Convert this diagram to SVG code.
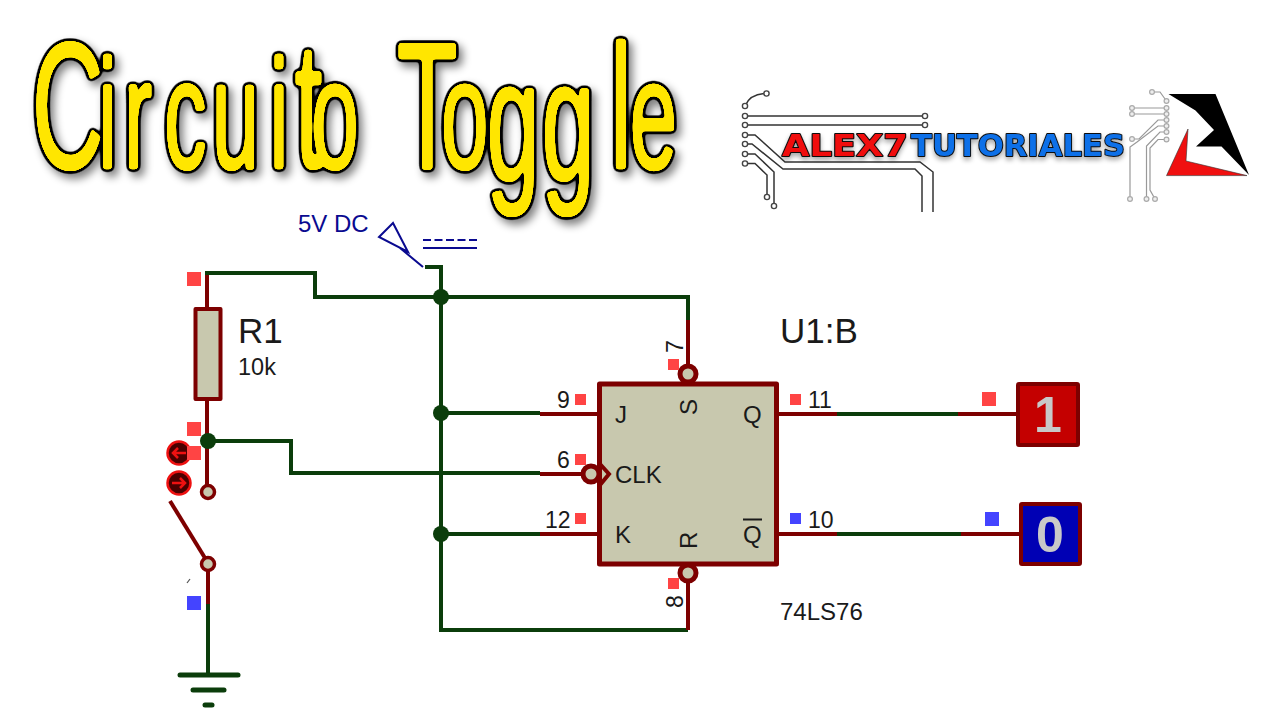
<svg xmlns="http://www.w3.org/2000/svg" width="1280" height="720" viewBox="0 0 1280 720">
<defs>
<filter id="titleFx" x="-5%" y="-15%" width="110%" height="130%" filterUnits="objectBoundingBox">
<feGaussianBlur in="SourceAlpha" stdDeviation="1.6" result="a1"/>
<feComponentTransfer in="a1" result="round"><feFuncA type="linear" slope="8" intercept="-3.4"/></feComponentTransfer>
<feFlood flood-color="#ffe600"/><feComposite in2="round" operator="in" result="y"/>
<feGaussianBlur in="SourceAlpha" stdDeviation="2.8" result="a2"/>
<feComponentTransfer in="a2" result="outline"><feFuncA type="linear" slope="9" intercept="-0.7"/></feComponentTransfer>
<feFlood flood-color="#000"/><feComposite in2="outline" operator="in" result="k"/>
<feGaussianBlur in="outline" stdDeviation="4" result="b"/>
<feOffset in="b" dx="4" dy="5" result="o"/>
<feComponentTransfer in="o" result="s"><feFuncA type="linear" slope=".5"/></feComponentTransfer>
<feMerge><feMergeNode in="s"/><feMergeNode in="k"/><feMergeNode in="y"/></feMerge>
</filter>
<filter id="soft" x="-5%" y="-20%" width="110%" height="150%">
<feGaussianBlur in="SourceAlpha" stdDeviation="2.5"/><feOffset dy="3" result="o"/>
<feComponentTransfer in="o" result="s"><feFuncA type="linear" slope=".35"/></feComponentTransfer>
<feMerge><feMergeNode in="s"/><feMergeNode in="SourceGraphic"/></feMerge>
</filter>
<circle id="padK" r="2.6" fill="#fff" stroke="#444" stroke-width="1.4"/>
<circle id="padG" r="2.4" fill="#eee" stroke="#aaa" stroke-width="1.2"/>
</defs>
<style>
.t{font-family:"Liberation Sans",Arial,sans-serif;fill:#1a1a1a}
.wg{fill:none;stroke:#0b3d0b;stroke-width:4}
.wr{fill:none;stroke:#7d0000;stroke-width:4}
.jn{fill:#0b3d0b}
.body{fill:#c8c8ae;stroke:#7d0000;stroke-linejoin:round}
.pr{fill:#ff4444}
.pb{fill:#4444ff}
.tk{fill:none;stroke:#333;stroke-width:1.5}
.tg{fill:none;stroke:#999;stroke-width:1.2}
.bl{fill:none;stroke:#0a0a90;stroke-width:2}
</style>
<rect width="1280" height="720" fill="#fff"/>

<g id="title" filter="url(#titleFx)">
<text transform="translate(0,168) scale(.55,1)" font-family="'Liberation Sans',Arial,sans-serif" font-size="155" fill="#ffe600" stroke="#ffe600" stroke-width="2.500" stroke-linejoin="round"><tspan x="58" font-size="180">C</tspan><tspan x="178 225 298 385 490">ircui</tspan><tspan x="536" font-size="180">t</tspan><tspan x="566 700">o </tspan><tspan x="722" font-size="180">T</tspan><tspan x="802">o</tspan><tspan x="885 985" dy="12" font-size="172">gg</tspan><tspan x="1109" dy="-12" font-size="176">l</tspan><tspan x="1145">e</tspan></text>
</g>

<g id="logo">
<g id="logo-traces-left" class="tk">
<path d="M745 106Q750 94 766 93.500"/><path d="M745 116H925M745 125H925"/>
<path d="M745 135H755L785 162H920L933 172V212"/>
<path d="M745 144H752L783 169H915L922 176V212"/>
<path d="M745 154H755L774 172V206"/>
<path d="M745 163.500H755L767 175V197"/>
</g>
<use href="#padK" x="766.500" y="93.500"/><use href="#padK" x="745" y="106"/><use href="#padK" x="745" y="116"/><use href="#padK" x="745" y="125"/><use href="#padK" x="745" y="135"/><use href="#padK" x="745" y="144"/><use href="#padK" x="745" y="154"/><use href="#padK" x="745" y="163.500"/><use href="#padK" x="925" y="116"/><use href="#padK" x="925" y="125"/><use href="#padK" x="767" y="197"/><use href="#padK" x="774" y="206"/>
<g id="logo-traces-right" class="tg">
<path d="M1152 92H1160L1166.500 101"/><path d="M1132 108H1166M1132 114H1166"/>
<path d="M1132 139H1139L1158 120H1166"/>
<path d="M1130 199V147L1137 142L1158 126H1166"/>
<path d="M1146.500 199V146L1160 132H1166"/>
<path d="M1155 199L1150 190V148L1158 139.500H1166"/>
</g>
<use href="#padG" x="1152" y="92"/><use href="#padG" x="1166.500" y="101"/><use href="#padG" x="1166.500" y="108"/><use href="#padG" x="1166.500" y="114"/><use href="#padG" x="1166.500" y="120"/><use href="#padG" x="1166.500" y="126"/><use href="#padG" x="1166.500" y="132"/><use href="#padG" x="1166.500" y="139.500"/><use href="#padG" x="1132" y="108"/><use href="#padG" x="1132" y="114"/><use href="#padG" x="1132" y="139"/><use href="#padG" x="1130" y="199"/><use href="#padG" x="1146.500" y="199"/><use href="#padG" x="1155" y="199"/>
<polygon points="1168.500,94 1215.500,94 1249,175 1221.500,146.500 1196,146.500 1214,130 1195.500,110.400" fill="#000"/>
<polygon points="1188,129 1186,161 1247,175.600 1166.500,175.600" fill="#f01010" stroke="#333" stroke-width=".6"/>
<g filter="url(#soft)" font-family="'DejaVu Sans',sans-serif" font-weight="bold" stroke="#101010" stroke-width="2" paint-order="stroke" stroke-linejoin="round">
<text x="782" y="156" font-size="31" fill="#f01010" textLength="126" lengthAdjust="spacingAndGlyphs">ALEX7</text>
<text x="911" y="156" font-size="31" fill="#0a6fe8" textLength="214" lengthAdjust="spacingAndGlyphs">TUTORIALES</text>
</g>
</g>

<g id="connectors">
<path class="wg" d="M207 275V273H315V297H688V320"/>
<path class="wg" d="M425 267H441V630H688"/>
<path class="wg" d="M208 441H291V473H540"/>
<path class="wg" d="M441 413H540M441 534H540"/>
<path class="wg" d="M837 414H958M837 534H961"/>
<path class="wg" d="M208 604V675"/>
<path class="wr" d="M207 275V308M207 400V486"/>
<path class="wr" d="M208 570V604"/>
<path class="wr" d="M688 320V366M688 581V630"/>
<path class="wr" d="M540 414H599M540 474H583M540 534H599"/>
<path class="wr" d="M777 414H837M777 534H837M958 414H1018M961 534H1020"/>
<circle class="jn" cx="441" cy="297" r="8"/><circle class="jn" cx="441" cy="413" r="8"/><circle class="jn" cx="441" cy="534" r="8"/><circle class="jn" cx="208" cy="441" r="8"/>
</g>

<g id="power">
<path class="bl" d="M393 223L379 237L408 252ZM400 248L423 267"/>
<path class="bl" d="M423 240H477" stroke-dasharray="8 3.500"/><path class="bl" d="M423 248H477"/>
<text class="t" x="298" y="232" font-size="24" style="fill:#0a0a90">5V DC</text>
</g>

<g id="R1">
<rect class="body" x="195.500" y="309" width="25" height="90" stroke-width="4"/>
<text class="t" x="238" y="343" font-size="35">R1</text>
<text class="t" x="238" y="375" font-size="23.500">10k</text>
<rect class="pr" x="187" y="272" width="14" height="14"/><rect class="pr" x="187" y="422" width="14" height="14"/>
</g>

<g id="switch">
<circle cx="179" cy="453" r="11.500" fill="#4a0000" stroke="#ee1111" stroke-width="2.500"/>
<path d="M186 453H173M178 448L173 453L178 458" fill="none" stroke="#ee1111" stroke-width="2.500"/>
<rect class="pr" x="187" y="446" width="14" height="14"/>
<circle cx="179" cy="483" r="11.500" fill="#4a0000" stroke="#ee1111" stroke-width="2.500"/>
<path d="M172 483H185M180 478L185 483L180 488" fill="none" stroke="#ee1111" stroke-width="2.500"/>
<circle class="body" cx="208" cy="492" r="6.500" stroke-width="3.500"/>
<path class="wr" d="M170 501L205 558"/>
<circle class="body" cx="208" cy="564" r="6.500" stroke-width="3.500"/>
<path d="M187 583L190 579" stroke="#555" stroke-width="1.200"/>
<rect class="pb" x="187" y="596" width="14" height="14"/>
</g>

<g id="ground" stroke="#0b3d0b" stroke-linecap="round">
<path d="M180 675H238" stroke-width="5"/><path d="M193 690H224" stroke-width="5"/><path d="M205 705H212" stroke-width="5"/>
</g>

<g id="U1">
<rect class="body" x="599.500" y="384" width="177" height="180" stroke-width="5"/>
<circle class="body" cx="688" cy="374" r="8" stroke-width="5"/>
<circle class="body" cx="688" cy="573" r="8" stroke-width="5"/>
<circle class="body" cx="591" cy="474" r="8" stroke-width="5"/>
<path d="M600 464L609 474L600 485" fill="none" stroke="#7d0000" stroke-width="4"/>
<text class="t" x="615" y="423" font-size="24">J</text>
<text class="t" x="615" y="483" font-size="24">CLK</text>
<text class="t" x="615" y="543" font-size="24">K</text>
<text class="t" x="743" y="423" font-size="24">Q</text>
<text class="t" x="743" y="543" font-size="24">Q</text>
<text class="t" font-size="24" transform="translate(697,415) rotate(-90)">S</text>
<text class="t" font-size="24" transform="translate(697,549) rotate(-90)">R</text>
<path d="M743 519.500H762" stroke="#1a1a1a" stroke-width="2"/>
<text class="t" x="557" y="408" font-size="23">9</text>
<text class="t" x="557" y="468" font-size="23">6</text>
<text class="t" x="545" y="528" font-size="23">12</text>
<text class="t" x="808" y="408" font-size="23">11</text>
<text class="t" x="808" y="528" font-size="23">10</text>
<text class="t" font-size="23" transform="translate(683,353) rotate(-90)">7</text>
<text class="t" font-size="23" transform="translate(683,608) rotate(-90)">8</text>
<rect class="pr" x="575" y="394" width="11" height="11"/><rect class="pr" x="575" y="454" width="11" height="11"/><rect class="pr" x="575" y="513" width="11" height="11"/><rect class="pr" x="790" y="394" width="11" height="11"/><rect class="pb" x="790" y="513" width="11" height="11"/><rect class="pr" x="668" y="359" width="11" height="11"/><rect class="pr" x="668" y="578" width="11" height="11"/>
<text class="t" x="780" y="343" font-size="35">U1:B</text>
<text class="t" x="780" y="620" font-size="24">74LS76</text>
</g>

<g id="out1">
<rect x="1018" y="384" width="60" height="61" rx="1" fill="#c40000" stroke="#7d0000" stroke-width="4"/>
<text x="1048" y="432" text-anchor="middle" font-family="'Liberation Sans',Arial,sans-serif" font-weight="bold" font-size="50" fill="#c8c8c8">1</text>
<rect class="pr" x="982" y="392" width="14" height="14"/>
</g>
<g id="out0">
<rect x="1021" y="504" width="59" height="60" rx="1" fill="#0000b4" stroke="#7d0000" stroke-width="4"/>
<text x="1050" y="552" text-anchor="middle" font-family="'Liberation Sans',Arial,sans-serif" font-weight="bold" font-size="50" fill="#c8c8c8">0</text>
<rect class="pb" x="985" y="512" width="14" height="14"/>
</g>
</svg>
